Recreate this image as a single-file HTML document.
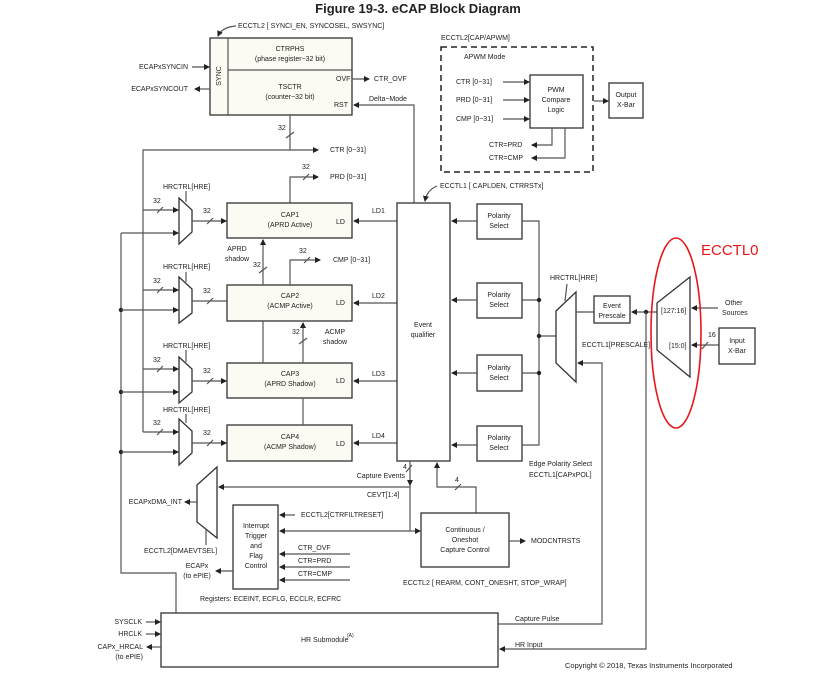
<!DOCTYPE html>
<html><head><meta charset="utf-8"><style>
html,body{margin:0;padding:0;background:#fff;}
svg{display:block;}
text{font-family:"Liberation Sans",sans-serif;font-size:7px;fill:#222;}
.b{stroke:#333;stroke-width:1.3;fill:#fff;}
.bf{stroke:#333;stroke-width:1.3;fill:#fbfaf3;}
.l{stroke:#555;stroke-width:1.2;fill:none;}
</style></head><body>
<svg width="831" height="676" viewBox="0 0 831 676" xmlns="http://www.w3.org/2000/svg">
<defs>
<marker id="a" markerWidth="6" markerHeight="6" refX="5" refY="3" orient="auto" markerUnits="userSpaceOnUse"><path d="M0,0 L6,3 L0,6 z" fill="#222"/></marker>
</defs>
<text x="418" y="13" text-anchor="middle" style="font-size:13px;font-weight:bold">Figure 19-3. eCAP Block Diagram</text>

<!-- SYNC / CTRPHS / TSCTR -->
<rect class="bf" x="210" y="38" width="142" height="77"/>
<line class="l" x1="228" y1="38" x2="228" y2="115"/>
<line class="l" x1="228" y1="70" x2="352" y2="70"/>
<text x="221" y="76" text-anchor="middle" transform="rotate(-90 221 76)">SYNC</text>
<text x="290" y="51" text-anchor="middle">CTRPHS</text>
<text x="290" y="61" text-anchor="middle">(phase register−32 bit)</text>
<text x="290" y="89" text-anchor="middle">TSCTR</text>
<text x="290" y="99" text-anchor="middle">(counter−32 bit)</text>
<text x="336" y="81">OVF</text>
<text x="334" y="107">RST</text>
<path class="l" d="M236,26 Q222,27 218,36" marker-end="url(#a)"/>
<text x="238" y="28">ECCTL2 [ SYNCI_EN, SYNCOSEL, SWSYNC]</text>
<text x="188" y="69" text-anchor="end">ECAPxSYNCIN</text>
<line class="l" x1="192" y1="67" x2="209" y2="67" marker-end="url(#a)"/>
<text x="188" y="91" text-anchor="end">ECAPxSYNCOUT</text>
<line class="l" x1="210" y1="89" x2="195" y2="89" marker-end="url(#a)"/>
<line class="l" x1="352" y1="79" x2="369" y2="79" marker-end="url(#a)"/>
<text x="374" y="81">CTR_OVF</text>
<path class="l" d="M414,203 L414,105 L354,105" marker-end="url(#a)"/>
<text x="369" y="101">Delta−Mode</text>

<!-- CTR bus -->
<line class="l" x1="290" y1="115" x2="290" y2="150"/>
<line class="l" x1="286" y1="138" x2="294" y2="132"/>
<text x="278" y="130">32</text>
<path class="l" d="M143,432 L143,150 L318,150" marker-end="url(#a)"/>
<text x="330" y="152">CTR [0−31]</text>
<path class="l" d="M290,203 L290,177 L318,177" marker-end="url(#a)"/>
<line class="l" x1="303" y1="180" x2="309" y2="174"/>
<text x="302" y="169">32</text>
<text x="330" y="179">PRD [0−31]</text>

<!-- left vertical line -->
<path class="l" d="M121,233 L121,573 L176,573 L176,613"/>
<circle cx="121" cy="310" r="2.2" fill="#222"/>
<circle cx="121" cy="392" r="2.2" fill="#222"/>
<circle cx="121" cy="452" r="2.2" fill="#222"/>

<!-- muxes left -->
<g>
<text x="163" y="189">HRCTRL[HRE]</text>
<line class="l" x1="186" y1="191" x2="186" y2="202"/>
<polygon class="b" points="179,198 192,210 192,232 179,244"/>
<line class="l" x1="143" y1="210" x2="178" y2="210" marker-end="url(#a)"/>
<line class="l" x1="157" y1="213" x2="163" y2="207"/><text x="153" y="203">32</text>
<line class="l" x1="121" y1="233" x2="178" y2="233" marker-end="url(#a)"/>
<line class="l" x1="192" y1="221" x2="226" y2="221" marker-end="url(#a)"/>
<line class="l" x1="207" y1="224" x2="213" y2="218"/><text x="203" y="213">32</text>

<text x="163" y="269">HRCTRL[HRE]</text>
<line class="l" x1="186" y1="272" x2="186" y2="282"/>
<polygon class="b" points="179,277 192,289 192,313 179,323"/>
<line class="l" x1="143" y1="290" x2="178" y2="290" marker-end="url(#a)"/>
<line class="l" x1="157" y1="293" x2="163" y2="287"/><text x="153" y="283">32</text>
<line class="l" x1="121" y1="310" x2="178" y2="310" marker-end="url(#a)"/>
<line class="l" x1="192" y1="301" x2="227" y2="301"/>
<line class="l" x1="207" y1="304" x2="213" y2="298"/><text x="203" y="293">32</text>

<text x="163" y="348">HRCTRL[HRE]</text>
<line class="l" x1="186" y1="350" x2="186" y2="362"/>
<polygon class="b" points="179,357 192,369 192,392 179,403"/>
<line class="l" x1="143" y1="369" x2="178" y2="369" marker-end="url(#a)"/>
<line class="l" x1="157" y1="372" x2="163" y2="366"/><text x="153" y="362">32</text>
<line class="l" x1="121" y1="392" x2="178" y2="392" marker-end="url(#a)"/>
<line class="l" x1="192" y1="381" x2="226" y2="381" marker-end="url(#a)"/>
<line class="l" x1="207" y1="384" x2="213" y2="378"/><text x="203" y="373">32</text>

<text x="163" y="412">HRCTRL[HRE]</text>
<line class="l" x1="186" y1="414" x2="186" y2="423"/>
<polygon class="b" points="179,419 192,431 192,453 179,465"/>
<line class="l" x1="143" y1="432" x2="178" y2="432" marker-end="url(#a)"/>
<line class="l" x1="157" y1="435" x2="163" y2="429"/><text x="153" y="425">32</text>
<line class="l" x1="121" y1="452" x2="178" y2="452" marker-end="url(#a)"/>
<line class="l" x1="192" y1="443" x2="226" y2="443" marker-end="url(#a)"/>
<line class="l" x1="207" y1="446" x2="213" y2="440"/><text x="203" y="435">32</text>
</g>

<!-- CAP boxes -->
<rect class="bf" x="227" y="203" width="125" height="35"/>
<text x="290" y="217" text-anchor="middle">CAP1</text><text x="290" y="227" text-anchor="middle">(APRD Active)</text><text x="336" y="224">LD</text>
<rect class="bf" x="227" y="285" width="125" height="36"/>
<text x="290" y="298" text-anchor="middle">CAP2</text><text x="290" y="308" text-anchor="middle">(ACMP Active)</text><text x="336" y="305">LD</text>
<rect class="bf" x="227" y="363" width="125" height="35"/>
<text x="290" y="376" text-anchor="middle">CAP3</text><text x="290" y="386" text-anchor="middle">(APRD Shadow)</text><text x="336" y="383">LD</text>
<rect class="bf" x="227" y="425" width="125" height="36"/>
<text x="290" y="439" text-anchor="middle">CAP4</text><text x="290" y="449" text-anchor="middle">(ACMP Shadow)</text><text x="336" y="446">LD</text>

<line class="l" x1="263" y1="285" x2="263" y2="240" marker-end="url(#a)"/>
<line class="l" x1="259" y1="273" x2="267" y2="267"/>
<text x="253" y="267">32</text>
<text x="237" y="251" text-anchor="middle">APRD</text><text x="237" y="261" text-anchor="middle">shadow</text>
<path class="l" d="M290,285 L290,260 L320,260" marker-end="url(#a)"/>
<line class="l" x1="304" y1="263" x2="310" y2="257"/><text x="299" y="253">32</text>
<text x="333" y="262">CMP [0−31]</text>
<line class="l" x1="263" y1="321" x2="263" y2="363"/>
<line class="l" x1="303" y1="363" x2="303" y2="323" marker-end="url(#a)"/>
<line class="l" x1="299" y1="344" x2="307" y2="338"/><text x="292" y="334">32</text>
<text x="335" y="334" text-anchor="middle">ACMP</text><text x="335" y="344" text-anchor="middle">shadow</text>
<line class="l" x1="303" y1="398" x2="303" y2="425"/>

<!-- LD lines -->
<line class="l" x1="397" y1="221" x2="354" y2="221" marker-end="url(#a)"/><text x="372" y="213">LD1</text>
<line class="l" x1="397" y1="303" x2="354" y2="303" marker-end="url(#a)"/><text x="372" y="298">LD2</text>
<line class="l" x1="397" y1="381" x2="354" y2="381" marker-end="url(#a)"/><text x="372" y="376">LD3</text>
<line class="l" x1="397" y1="443" x2="354" y2="443" marker-end="url(#a)"/><text x="372" y="438">LD4</text>

<!-- Event qualifier -->
<rect class="b" x="397" y="203" width="53" height="258"/>
<text x="423" y="327" text-anchor="middle">Event</text><text x="423" y="337" text-anchor="middle">qualifier</text>
<path class="l" d="M437,186 Q427,190 425,201" marker-end="url(#a)"/>
<text x="440" y="188">ECCTL1 [ CAPLDEN, CTRRSTx]</text>

<!-- Polarity select -->
<g>
<rect class="b" x="477" y="204" width="45" height="35"/><text x="499" y="218" text-anchor="middle">Polarity</text><text x="499" y="228" text-anchor="middle">Select</text>
<rect class="b" x="477" y="283" width="45" height="35"/><text x="499" y="297" text-anchor="middle">Polarity</text><text x="499" y="307" text-anchor="middle">Select</text>
<rect class="b" x="477" y="355" width="45" height="36"/><text x="499" y="370" text-anchor="middle">Polarity</text><text x="499" y="380" text-anchor="middle">Select</text>
<rect class="b" x="477" y="426" width="45" height="35"/><text x="499" y="440" text-anchor="middle">Polarity</text><text x="499" y="450" text-anchor="middle">Select</text>
<line class="l" x1="477" y1="221" x2="452" y2="221" marker-end="url(#a)"/>
<line class="l" x1="477" y1="300" x2="452" y2="300" marker-end="url(#a)"/>
<line class="l" x1="477" y1="373" x2="452" y2="373" marker-end="url(#a)"/>
<line class="l" x1="477" y1="445" x2="452" y2="445" marker-end="url(#a)"/>
<path class="l" d="M522,221 L539,221 L539,445 L522,445"/>
<line class="l" x1="522" y1="300" x2="539" y2="300"/>
<line class="l" x1="522" y1="373" x2="539" y2="373"/>
<line class="l" x1="539" y1="336" x2="556" y2="336"/>
<circle cx="539" cy="300" r="2.2" fill="#222"/><circle cx="539" cy="336" r="2.2" fill="#222"/><circle cx="539" cy="373" r="2.2" fill="#222"/>
</g>
<text x="529" y="466">Edge Polarity Select</text>
<text x="529" y="477">ECCTL1[CAPxPOL]</text>

<!-- right mux & prescale -->
<polygon class="b" points="556,311 576,292 576,382 556,363"/>
<text x="550" y="280">HRCTRL[HRE]</text>
<line class="l" x1="567" y1="284" x2="565" y2="301"/>
<line class="l" x1="576" y1="312" x2="594" y2="312"/>
<rect class="b" x="594" y="296" width="36" height="27"/>
<text x="612" y="308" text-anchor="middle">Event</text><text x="612" y="318" text-anchor="middle">Prescale</text>
<line class="l" x1="657" y1="312" x2="632" y2="312" marker-end="url(#a)"/>
<circle cx="646" cy="312" r="2.2" fill="#222"/>
<text x="582" y="347">ECCTL1[PRESCALE]</text>
<path class="l" d="M646,312 L646,649 L500,649" marker-end="url(#a)"/>
<path class="l" d="M498,624 L602,624 L602,363 L578,363" marker-end="url(#a)"/>

<!-- ECCTL0 mux -->
<polygon class="b" points="657,303 690,277 690,377 657,350"/>
<text x="661" y="313">[127:16]</text>
<text x="669" y="348">[15:0]</text>
<line class="l" x1="718" y1="308" x2="692" y2="308" marker-end="url(#a)"/>
<text x="725" y="305">Other</text><text x="722" y="315">Sources</text>
<line class="l" x1="719" y1="345" x2="692" y2="345" marker-end="url(#a)"/>
<line class="l" x1="702" y1="349" x2="708" y2="342"/><text x="708" y="337">16</text>
<rect class="b" x="719" y="328" width="36" height="36"/>
<text x="737" y="343" text-anchor="middle">Input</text><text x="737" y="353" text-anchor="middle">X-Bar</text>
<ellipse cx="676" cy="333" rx="25" ry="95" fill="none" stroke="#e8161a" stroke-width="1.6"/>
<text x="701" y="255" style="font-size:15px;fill:#e8161a">ECCTL0</text>

<!-- APWM dashed box -->
<text x="441" y="40">ECCTL2[CAP/APWM]</text>
<rect x="441" y="47" width="152" height="125" fill="none" stroke="#222" stroke-width="1.5" stroke-dasharray="6,4"/>
<text x="464" y="59">APWM  Mode</text>
<rect class="b" x="530" y="75" width="53" height="53"/>
<text x="556" y="92" text-anchor="middle">PWM</text><text x="556" y="102" text-anchor="middle">Compare</text><text x="556" y="112" text-anchor="middle">Logic</text>
<text x="456" y="84">CTR [0−31]</text><line class="l" x1="503" y1="82" x2="529" y2="82" marker-end="url(#a)"/>
<text x="456" y="102">PRD [0−31]</text><line class="l" x1="503" y1="100" x2="529" y2="100" marker-end="url(#a)"/>
<text x="456" y="121">CMP [0−31]</text><line class="l" x1="503" y1="119" x2="529" y2="119" marker-end="url(#a)"/>
<path class="l" d="M552,128 L552,145 L532,145" marker-end="url(#a)"/>
<path class="l" d="M565,128 L565,158 L532,158" marker-end="url(#a)"/>
<text x="489" y="147">CTR=PRD</text><text x="489" y="160">CTR=CMP</text>
<line class="l" x1="594" y1="101" x2="608" y2="101" marker-end="url(#a)"/>
<rect class="b" x="609" y="83" width="34" height="35"/>
<text x="626" y="97" text-anchor="middle">Output</text><text x="626" y="107" text-anchor="middle">X-Bar</text>

<!-- capture events -->
<line class="l" x1="410" y1="461" x2="410" y2="531"/>
<path d="M407,480 L413,480 L410,486 z" fill="#222"/>
<line class="l" x1="406" y1="472" x2="412" y2="465"/><text x="403" y="469">4</text>
<text x="405" y="478" text-anchor="end">Capture Events</text>
<line class="l" x1="410" y1="487" x2="219" y2="487" marker-end="url(#a)"/>
<text x="367" y="497">CEVT[1:4]</text>
<line class="l" x1="410" y1="531" x2="280" y2="531" marker-end="url(#a)"/>
<line class="l" x1="410" y1="531" x2="420" y2="531" marker-end="url(#a)"/>
<path class="l" d="M476,513 L476,487 L437,487 L437,463" marker-end="url(#a)"/>
<line class="l" x1="455" y1="490" x2="461" y2="484"/><text x="455" y="482">4</text>
<rect class="b" x="421" y="513" width="88" height="54"/>
<text x="465" y="532" text-anchor="middle">Continuous /</text><text x="465" y="542" text-anchor="middle">Oneshot</text><text x="465" y="552" text-anchor="middle">Capture Control</text>
<line class="l" x1="509" y1="541" x2="525" y2="541" marker-end="url(#a)"/>
<text x="531" y="543">MODCNTRSTS</text>
<text x="403" y="585">ECCTL2 [ REARM, CONT_ONESHT, STOP_WRAP]</text>

<!-- DMA mux -->
<polygon class="b" points="197,485 217,467 217,538 197,522"/>
<line class="l" x1="206" y1="530" x2="206" y2="545"/>
<text x="144" y="553">ECCTL2[DMAEVTSEL]</text>
<line class="l" x1="197" y1="502" x2="185" y2="502" marker-end="url(#a)"/>
<text x="182" y="504" text-anchor="end">ECAPxDMA_INT</text>

<!-- Interrupt -->
<rect class="b" x="233" y="505" width="45" height="84"/>
<text x="256" y="528" text-anchor="middle">Interrupt</text><text x="256" y="538" text-anchor="middle">Trigger</text><text x="256" y="548" text-anchor="middle">and</text><text x="256" y="558" text-anchor="middle">Flag</text><text x="256" y="568" text-anchor="middle">Control</text>
<line class="l" x1="295" y1="515" x2="280" y2="515" marker-end="url(#a)"/>
<text x="301" y="517">ECCTL2[CTRFILTRESET]</text>
<line class="l" x1="350" y1="554" x2="280" y2="554" marker-end="url(#a)"/><text x="298" y="550">CTR_OVF</text>
<line class="l" x1="350" y1="567" x2="280" y2="567" marker-end="url(#a)"/><text x="298" y="563">CTR=PRD</text>
<line class="l" x1="350" y1="580" x2="280" y2="580" marker-end="url(#a)"/><text x="298" y="576">CTR=CMP</text>
<line class="l" x1="233" y1="571" x2="216" y2="571" marker-end="url(#a)"/>
<text x="197" y="568" text-anchor="middle">ECAPx</text><text x="197" y="578" text-anchor="middle">(to ePIE)</text>
<text x="200" y="601">Registers:  ECEINT, ECFLG, ECCLR, ECFRC</text>

<!-- HR submodule -->
<rect class="b" x="161" y="613" width="337" height="54"/>
<text x="301" y="642">HR Submodule</text><text x="347" y="637" style="font-size:5px">(A)</text>
<text x="515" y="621">Capture Pulse</text>
<text x="515" y="647">HR Input</text>
<text x="142" y="624" text-anchor="end">SYSCLK</text><line class="l" x1="146" y1="622" x2="160" y2="622" marker-end="url(#a)"/>
<text x="142" y="636" text-anchor="end">HRCLK</text><line class="l" x1="146" y1="634" x2="160" y2="634" marker-end="url(#a)"/>
<text x="143" y="649" text-anchor="end">CAPx_HRCAL</text><line class="l" x1="161" y1="647" x2="147" y2="647" marker-end="url(#a)"/>
<text x="143" y="659" text-anchor="end">(to ePIE)</text>
<text x="565" y="668" style="font-size:7.5px">Copyright © 2018, Texas Instruments Incorporated</text>
</svg>
</body></html>
